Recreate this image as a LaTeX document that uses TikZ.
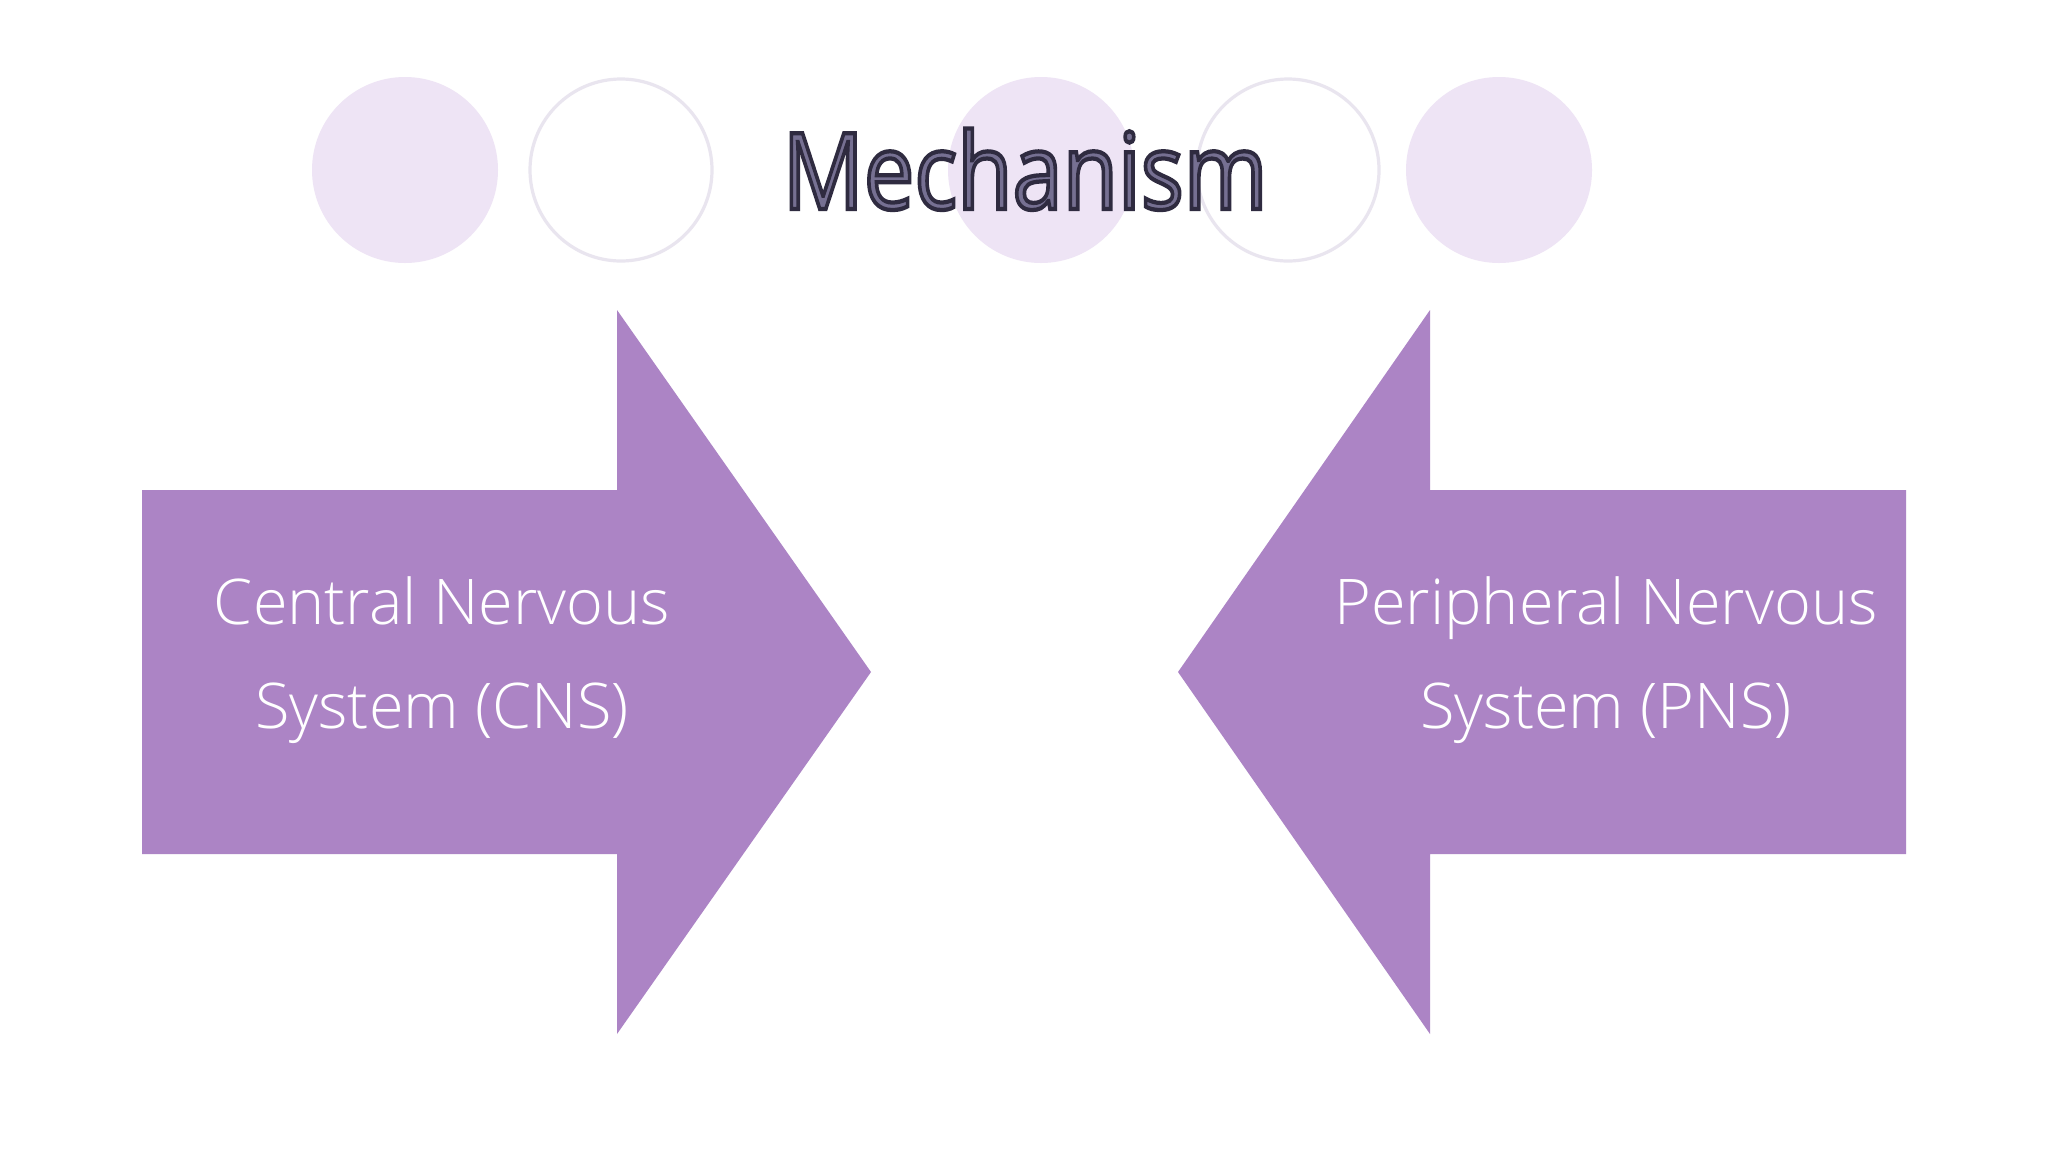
\documentclass[tikz,border=0pt]{standalone}
\usepackage{fontspec}
\setmainfont{Open Sans}
\newfontfamily\lightfont{Open Sans Light}
\newfontfamily\titlefont{Open Sans}[FakeBold=4]
\definecolor{arrowpurple}{RGB}{172,132,197}
\definecolor{circfill}{RGB}{238,228,245}
\definecolor{ringcol}{RGB}{233,229,239}
\definecolor{titlefill}{RGB}{118,112,146}
\definecolor{titleline}{RGB}{47,43,64}
\tikzset{
  dot/.style={fill=circfill},
  ring/.style={draw=ringcol, line width=1.6pt, fill=white},
  arrowshape/.style={fill=arrowpurple},
  label/.style={anchor=base, text=white, inner sep=0pt, font=\lightfont\fontsize{31.5}{40}\selectfont},
  titletext/.style={anchor=base, inner sep=0pt, xscale=0.85, transform shape, font=\titlefont\fontsize{53}{60}\selectfont}
}
\begin{document}
\begin{tikzpicture}[x=0.5pt,y=-0.5pt]
\useasboundingbox (0,0) rectangle (2048,1152);
\fill[white] (0,0) rectangle (2048,1152);
% circles
\fill[dot] (405,170) circle[radius=93];
\path[ring] (621,170) circle[radius=91];
\fill[dot] (1041,170) circle[radius=93];
\path[ring] (1288,170) circle[radius=91];
\fill[dot] (1499,170) circle[radius=93];
% title: filled and stroked glyphs
\node[titletext] (title) at (1025,209) {\color{titlefill}\special{pdf:code 0.184 0.169 0.251 RG}Mechanism};
% arrows
\fill[arrowshape] (142,490) -- (617,490) -- (617,310) -- (871,672) -- (617,1034) -- (617,854) -- (142,854) -- cycle;
\fill[arrowshape] (1906,490) -- (1430,490) -- (1430,310) -- (1178,672) -- (1430,1034) -- (1430,854) -- (1906,854) -- cycle;
% labels
\node[label] (cns1) at (442,624) {Central Nervous};
\node[label] (cns2) at (442,728) {System (CNS)};
\node[label] (pns1) at (1606,624) {Peripheral Nervous};
\node[label] (pns2) at (1606,728) {System (PNS)};
\end{tikzpicture}
\end{document}
